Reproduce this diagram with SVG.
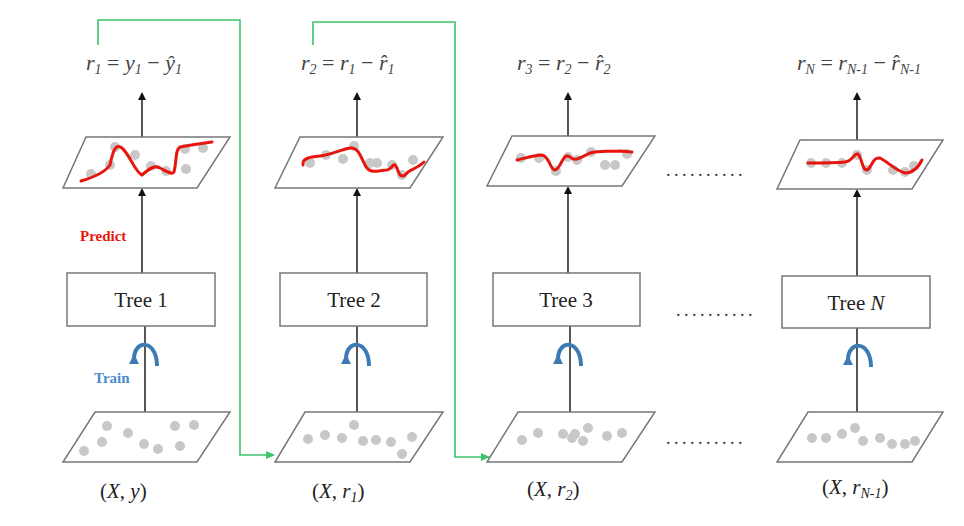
<svg xmlns="http://www.w3.org/2000/svg" width="964" height="526" viewBox="0 0 964 526">
<style>
.pl{fill:#fff;stroke:#777;stroke-width:1.5}
.bx{fill:#fff;stroke:#777;stroke-width:1.5}
.ln{stroke:#444;stroke-width:1.8;fill:none}
.gr{stroke:#3cc46a;stroke-width:1.6;fill:none}
.dot{fill:#c8c8c8}
.cv{stroke:#e8140e;stroke-width:3;fill:none;stroke-linecap:round}
.f{font-family:"Liberation Serif",serif;font-size:22px;fill:#444;font-style:italic}
.t{font-family:"Liberation Serif",serif;font-size:21px;fill:#222}
.el{font-family:"Liberation Serif",serif;font-size:18px;fill:#333;letter-spacing:3.5px}
.tr{stroke:#3d7bb5;stroke-width:4;fill:none}
</style>
<defs>
<marker id="a" markerWidth="8" markerHeight="8" refX="4" refY="4" orient="auto" markerUnits="userSpaceOnUse" viewBox="0 0 8 8"><path d="M0,0L8,4L0,8z" fill="#111"/></marker>
<marker id="g" markerWidth="9" markerHeight="8" refX="8" refY="4" orient="auto" markerUnits="userSpaceOnUse" viewBox="0 0 9 8"><path d="M0,0L9,4L0,8z" fill="#3cc46a"/></marker>
<marker id="b" markerWidth="10" markerHeight="10" refX="5" refY="5" orient="auto" markerUnits="userSpaceOnUse" viewBox="0 0 10 10"><path d="M0,0L10,5L0,10z" fill="#3d7bb5"/></marker>
</defs>
<g id="connectors">
<path class="gr" d="M98,45V20H240V455H274" marker-end="url(#g)"/>
<path class="gr" d="M313,45V22H455V457H489" marker-end="url(#g)"/>
<line class="ln" x1="142" y1="137" x2="142" y2="96" marker-end="url(#a)"/>
<line class="ln" x1="142" y1="273" x2="142" y2="192" marker-end="url(#a)"/>
<line class="ln" x1="145" y1="412" x2="145" y2="326"/>
<line class="ln" x1="357" y1="137" x2="357" y2="96" marker-end="url(#a)"/>
<line class="ln" x1="357" y1="273" x2="357" y2="192" marker-end="url(#a)"/>
<line class="ln" x1="357" y1="412" x2="357" y2="326"/>
<line class="ln" x1="568" y1="136" x2="568" y2="96" marker-end="url(#a)"/>
<line class="ln" x1="568" y1="273" x2="568" y2="190" marker-end="url(#a)"/>
<line class="ln" x1="570" y1="412" x2="570" y2="326"/>
<line class="ln" x1="857" y1="140" x2="857" y2="96" marker-end="url(#a)"/>
<line class="ln" x1="857" y1="276" x2="857" y2="193" marker-end="url(#a)"/>
<line class="ln" x1="857" y1="412" x2="857" y2="328"/>
</g>
<g id="col1">
<text class="f" x="86" y="70">r<tspan font-size="14" dy="4">1</tspan><tspan dy="-4" font-style="normal"> = </tspan>y<tspan font-size="14" dy="4">1</tspan><tspan dy="-4" font-style="normal"> − </tspan>ŷ<tspan font-size="14" dy="4">1</tspan></text>
<polygon class="pl" points="86,137 230,137 197,188 63,188"/>
<circle class="dot" cx="91" cy="174" r="5"/><circle class="dot" cx="110" cy="165" r="5"/><circle class="dot" cx="115" cy="147" r="5"/><circle class="dot" cx="135" cy="155" r="5"/><circle class="dot" cx="151" cy="166" r="5"/><circle class="dot" cx="166" cy="171" r="5"/><circle class="dot" cx="185" cy="149" r="5"/><circle class="dot" cx="186" cy="169" r="5"/><circle class="dot" cx="203" cy="148" r="5"/>
<path class="cv" d="M81,181C95,177 105,172 110,165C113,150 116,143 122,148C130,155 135,172 142,175C150,168 155,165 160,168C168,172 172,175 174,172C177,160 175,150 180,147C195,144 205,143 212,142"/>
<text x="80" y="241" font-family="Liberation Serif,serif" font-weight="bold" font-size="15" fill="#e8140e">Predict</text>
<rect class="bx" x="67" y="273" width="148" height="53"/>
<text class="t" x="141" y="307" text-anchor="middle">Tree 1</text>
<path class="tr" d="M134,359C134,339 157,339 157,366" marker-start="url(#b)"/>
<text x="94" y="383" font-family="Liberation Serif,serif" font-weight="bold" font-size="15" fill="#4a8cc8">Train</text>
<polygon class="pl" points="95,412 230,412 197,462 63,462"/>
<circle class="dot" cx="107" cy="426" r="5"/><circle class="dot" cx="102" cy="442" r="5"/><circle class="dot" cx="84" cy="451" r="5"/><circle class="dot" cx="128" cy="433" r="5"/><circle class="dot" cx="144" cy="444" r="5"/><circle class="dot" cx="158" cy="449" r="5"/><circle class="dot" cx="175" cy="426" r="5"/><circle class="dot" cx="194" cy="425" r="5"/><circle class="dot" cx="180" cy="446" r="5"/>
<text class="t" x="100" y="498">(<tspan font-style="italic">X</tspan>, <tspan font-style="italic">y</tspan>)</text>
</g>
<g id="col2">
<text class="f" x="301" y="70">r<tspan font-size="14" dy="4">2</tspan><tspan dy="-4" font-style="normal"> = </tspan>r<tspan font-size="14" dy="4">1</tspan><tspan dy="-4" font-style="normal"> − </tspan>r̂<tspan font-size="14" dy="4">1</tspan></text>
<polygon class="pl" points="300,137 443,137 410,188 275,188"/>
<circle class="dot" cx="310" cy="163" r="5"/><circle class="dot" cx="326" cy="155" r="5"/><circle class="dot" cx="343" cy="159" r="5"/><circle class="dot" cx="354" cy="146" r="5"/><circle class="dot" cx="370" cy="163" r="5"/><circle class="dot" cx="377" cy="163" r="5"/><circle class="dot" cx="392" cy="165" r="5"/><circle class="dot" cx="402" cy="175" r="5"/><circle class="dot" cx="413" cy="160" r="5"/>
<path class="cv" d="M303,165C302,158 310,157 320,156C330,155 340,150 350,148C358,147 360,155 365,165C370,175 378,170 387,170C393,169 393,160 397,168C400,178 403,178 408,172C415,168 420,166 424,162"/>
<rect class="bx" x="280" y="273" width="147" height="53"/>
<text class="t" x="354" y="307" text-anchor="middle">Tree 2</text>
<path class="tr" d="M346,359C346,339 369,339 369,366" marker-start="url(#b)"/>
<polygon class="pl" points="305,412 443,412 410,462 275,462"/>
<circle class="dot" cx="308" cy="439" r="5"/><circle class="dot" cx="325" cy="435" r="5"/><circle class="dot" cx="342" cy="438" r="5"/><circle class="dot" cx="354" cy="425" r="5"/><circle class="dot" cx="363" cy="441" r="5"/><circle class="dot" cx="376" cy="440" r="5"/><circle class="dot" cx="391" cy="442" r="5"/><circle class="dot" cx="412" cy="437" r="5"/><circle class="dot" cx="402" cy="454" r="5"/>
<text class="t" x="312" y="498">(<tspan font-style="italic">X</tspan>, <tspan font-style="italic">r</tspan><tspan font-size="14" font-style="italic" dy="4">1</tspan><tspan dy="-4">)</tspan></text>
</g>
<g id="col3">
<text class="f" x="517" y="70">r<tspan font-size="14" dy="4">3</tspan><tspan dy="-4" font-style="normal"> = </tspan>r<tspan font-size="14" dy="4">2</tspan><tspan dy="-4" font-style="normal"> − </tspan>r̂<tspan font-size="14" dy="4">2</tspan></text>
<polygon class="pl" points="512,136 655,136 622,186 487,186"/>
<circle class="dot" cx="521" cy="158" r="5"/><circle class="dot" cx="539" cy="158" r="5"/><circle class="dot" cx="556" cy="171" r="5"/><circle class="dot" cx="568" cy="157" r="5"/><circle class="dot" cx="577" cy="160" r="5"/><circle class="dot" cx="591" cy="152" r="5"/><circle class="dot" cx="605" cy="165" r="5"/><circle class="dot" cx="615" cy="165" r="5"/><circle class="dot" cx="627" cy="154" r="5"/>
<path class="cv" d="M517,160C525,158 535,155 542,155C550,157 550,170 555,170C562,168 562,152 570,157C575,162 580,158 590,153C600,150 610,152 620,151C625,151 630,152 632,152"/>
<rect class="bx" x="493" y="273" width="147" height="53"/>
<text class="t" x="566" y="307" text-anchor="middle">Tree 3</text>
<path class="tr" d="M558,359C558,339 581,339 581,366" marker-start="url(#b)"/>
<polygon class="pl" points="518,412 655,412 622,462 487,462"/>
<circle class="dot" cx="522" cy="440" r="5"/><circle class="dot" cx="538" cy="433" r="5"/><circle class="dot" cx="563" cy="434" r="5"/><circle class="dot" cx="572" cy="438" r="5"/><circle class="dot" cx="588" cy="428" r="5"/><circle class="dot" cx="583" cy="441" r="5"/><circle class="dot" cx="607" cy="436" r="5"/><circle class="dot" cx="622" cy="433" r="5"/><circle class="dot" cx="575" cy="434" r="5"/>
<text class="t" x="527" y="496">(<tspan font-style="italic">X</tspan>, <tspan font-style="italic">r</tspan><tspan font-size="14" font-style="italic" dy="4">2</tspan><tspan dy="-4">)</tspan></text>
</g>
<g id="colN">
<text class="f" x="797" y="70">r<tspan font-size="14" dy="4">N</tspan><tspan dy="-4" font-style="normal"> = </tspan>r<tspan font-size="14" dy="4">N-1</tspan><tspan dy="-4" font-style="normal"> − </tspan>r̂<tspan font-size="14" dy="4">N-1</tspan></text>
<polygon class="pl" points="800,140 943,140 912,189 777,189"/>
<circle class="dot" cx="811" cy="163" r="5"/><circle class="dot" cx="826" cy="163" r="5"/><circle class="dot" cx="857" cy="155" r="5"/><circle class="dot" cx="867" cy="170" r="5"/><circle class="dot" cx="893" cy="170" r="5"/><circle class="dot" cx="905" cy="172" r="5"/><circle class="dot" cx="914" cy="166" r="5"/><circle class="dot" cx="842" cy="163" r="5"/>
<path class="cv" d="M808,163C820,163 835,163 845,162C852,162 855,152 858,154C862,158 862,170 867,170C872,168 872,157 880,158C888,162 895,170 905,173C912,173 918,168 922,160"/>
<rect class="bx" x="782" y="276" width="148" height="52"/>
<text class="t" x="856" y="310" text-anchor="middle">Tree <tspan font-style="italic">N</tspan></text>
<path class="tr" d="M848,360C848,340 871,340 871,367" marker-start="url(#b)"/>
<polygon class="pl" points="808,412 943,412 912,462 777,462"/>
<circle class="dot" cx="812" cy="438" r="5"/><circle class="dot" cx="826" cy="438" r="5"/><circle class="dot" cx="842" cy="434" r="5"/><circle class="dot" cx="855" cy="428" r="5"/><circle class="dot" cx="863" cy="441" r="5"/><circle class="dot" cx="880" cy="438" r="5"/><circle class="dot" cx="892" cy="444" r="5"/><circle class="dot" cx="905" cy="444" r="5"/><circle class="dot" cx="915" cy="441" r="5"/>
<text class="t" x="822" y="494">(<tspan font-style="italic">X</tspan>, <tspan font-style="italic">r</tspan><tspan font-size="14" font-style="italic" dy="4">N-1</tspan><tspan dy="-4">)</tspan></text>
</g>
<g id="ellipses">
<text class="el" x="666" y="176">..........</text>
<text class="el" x="676" y="316">..........</text>
<text class="el" x="666" y="444">..........</text>
</g>
</svg>
